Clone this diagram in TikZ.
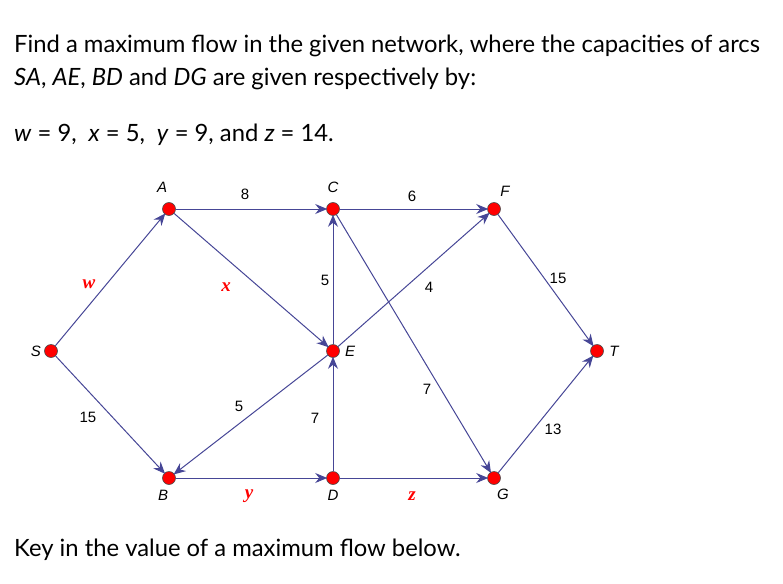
\documentclass[tikz,border=0pt]{standalone}
\usepackage{fontspec}
\setmainfont{Lato}
\newfontfamily\lab{Liberation Sans}
\newfontfamily\var{Liberation Serif}
\usetikzlibrary{arrows.meta}
\definecolor{edgec}{RGB}{70,70,150}
\tikzset{
  vtx/.style={circle,fill=red,draw=black!70,line width=0.6pt,minimum size=13pt,inner sep=0pt},
  arc/.style={draw=edgec,line width=1pt,-{Stealth[length=12pt,width=10pt,inset=4pt]},shorten >=-1pt},
  lbl/.style={font=\lab\fontsize{15}{16}\selectfont,inner sep=1pt},
  vlbl/.style={font=\var\bfseries\itshape\fontsize{19}{20}\selectfont,text=red,inner sep=1pt},
  nlbl/.style={font=\lab\itshape\fontsize{15}{16}\selectfont,inner sep=1pt},
  txt/.style={font=\fontsize{23.8}{26}\selectfont,anchor=base west,inner sep=0pt}
}
\begin{document}
\begin{tikzpicture}[x=1pt,y=-1pt]
\useasboundingbox (0,0) rectangle (783,583);
\node[txt] (t1) at (14,53) {Find a maximum flow in the given network, where the capacities of arcs};
\node[txt] (t2) at (14,86) {\textit{SA}, \textit{AE}, \textit{BD} and \textit{DG} are given respectively by:};
\node[txt] (t3) at (14,141) {\textit{w} = 9,\enspace \textit{x} = 5,\enspace \textit{y} = 9, and \textit{z} = 14.};
\node[txt] (t4) at (14,556) {Key in the value of a maximum flow below.};
\node[vtx] (S) at (51,351) {};
\node[vtx] (A) at (169,209) {};
\node[vtx] (C) at (333,209) {};
\node[vtx] (F) at (494,209) {};
\node[vtx] (E) at (333,351) {};
\node[vtx] (T) at (597,351) {};
\node[vtx] (B) at (169,478) {};
\node[vtx] (D) at (333,478) {};
\node[vtx] (G) at (494,478) {};
\foreach \a/\b in {S/A,S/B,A/C,A/E,C/F,C/G,E/C,E/F,E/B,D/E,B/D,D/G,F/T,G/T}
  \draw[arc] (\a) -- (\b);
\node[nlbl] (lS) at (36,351) {S};
\node[nlbl] (lA) at (162,187) {A};
\node[nlbl] (lC) at (333,187) {C};
\node[nlbl] (lF) at (505,191) {F};
\node[nlbl] (lE) at (350,351) {E};
\node[nlbl] (lT) at (614,351) {T};
\node[nlbl] (lB) at (163,495) {B};
\node[nlbl] (lD) at (333,495) {D};
\node[nlbl] (lG) at (503,494) {G};
\node[lbl] (c1) at (245,194) {8};
\node[lbl] (c2) at (412,196) {6};
\node[lbl] (c3) at (325,280) {5};
\node[lbl] (c4) at (429,287) {4};
\node[lbl] (c5) at (558,278) {15};
\node[lbl] (c6) at (88,417) {15};
\node[lbl] (c7) at (239,406) {5};
\node[lbl] (c8) at (315,418) {7};
\node[lbl] (c9) at (427,389) {7};
\node[lbl] (c10) at (553,429) {13};
\node[vlbl] (vw) at (89,284) {w};
\node[vlbl] (vx) at (226,287) {x};
\node[vlbl] (vy) at (249,496) {y};
\node[vlbl] (vz) at (412,496) {z};
\end{tikzpicture}
\end{document}
